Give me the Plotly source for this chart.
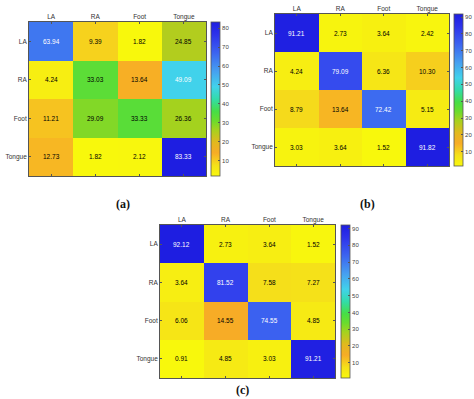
import plotly.graph_objects as go

classes = ["LA", "RA", "Foot", "Tongue"]

cm_a = [
    [63.94, 9.39, 1.82, 24.85],
    [4.24, 33.03, 13.64, 49.09],
    [11.21, 29.09, 33.33, 26.36],
    [12.73, 1.82, 2.12, 83.33],
]
cm_b = [
    [91.21, 2.73, 3.64, 2.42],
    [4.24, 79.09, 6.36, 10.30],
    [8.79, 13.64, 72.42, 5.15],
    [3.03, 3.64, 1.52, 91.82],
]
cm_c = [
    [92.12, 2.73, 3.64, 1.52],
    [3.64, 81.52, 7.58, 7.27],
    [6.06, 14.55, 74.55, 4.85],
    [0.91, 4.85, 3.03, 91.21],
]
panel_labels = ["(a)", "(b)", "(c)"]

W, H = 474, 399

colorscale = [
    [0.0, "rgb(248,248,12)"],
    [0.07, "rgb(245,225,25)"],
    [0.15, "rgb(247,172,38)"],
    [0.22, "rgb(225,185,30)"],
    [0.30, "rgb(165,210,30)"],
    [0.36, "rgb(105,220,45)"],
    [0.42, "rgb(70,222,70)"],
    [0.50, "rgb(50,220,170)"],
    [0.58, "rgb(65,210,235)"],
    [0.68, "rgb(70,160,240)"],
    [0.80, "rgb(60,100,240)"],
    [0.92, "rgb(45,50,235)"],
    [1.0, "rgb(30,30,225)"],
]

# pixel boxes: (left, right, top, bottom) for heatmap; colorbar left/right
boxes = [
    dict(l=29, r=206, t=22, b=176, cl=211, cr=220, lab=(123, 204)),
    dict(l=275, r=449, t=14, b=166, cl=454, cr=463, lab=(367, 204)),
    dict(l=160, r=335, t=225, b=378, cl=341, cr=350, lab=(243, 390)),
]
mats = [cm_a, cm_b, cm_c]

fig = go.Figure()
annotations = []
font_fam = "Liberation Sans, Arial, sans-serif"

for i, (m, bx) in enumerate(zip(mats, boxes)):
    sfx = "" if i == 0 else str(i + 1)
    xa, ya = "x" + sfx, "y" + sfx
    flat = [v for row in m for v in row]
    zmin, zmax = min(flat), max(flat)
    fig.add_trace(go.Heatmap(
        z=m, x=classes, y=classes, xaxis=xa, yaxis=ya,
        colorscale=colorscale, zmin=zmin, zmax=zmax,
        hoverinfo="skip",
        colorbar=dict(
            x=bx["cl"] / W, xanchor="left", xpad=0, ypad=0,
            thickness=bx["cr"] - bx["cl"],
            len=(bx["b"] - bx["t"]) / H, lenmode="fraction",
            y=1 - (bx["t"] + bx["b"]) / 2 / H, yanchor="middle",
            outlinewidth=0.8, outlinecolor="#555",
            tick0=10, dtick=10, ticks="inside", ticklen=2, tickcolor="#555",
            tickfont=dict(size=6, color="#444", family=font_fam),
        ),
    ))
    dom_x = [bx["l"] / W, bx["r"] / W]
    dom_y = [1 - bx["b"] / H, 1 - bx["t"] / H]
    fig.layout["xaxis" + sfx] = dict(
        domain=dom_x, anchor=ya, side="top", ticks="inside", ticklen=2,
        tickcolor="#555", mirror="allticks", showline=True, linecolor="#555",
        linewidth=0.8, showgrid=False, zeroline=False,
        tickfont=dict(size=6.5, color="#333", family=font_fam),
    )
    fig.layout["yaxis" + sfx] = dict(
        domain=dom_y, anchor=xa, autorange="reversed", ticks="inside", ticklen=2,
        tickcolor="#555", mirror="allticks", showline=True, linecolor="#555",
        linewidth=0.8, showgrid=False, zeroline=False,
        tickfont=dict(size=6.5, color="#333", family=font_fam),
    )
    for r, rowname in enumerate(classes):
        for c, colname in enumerate(classes):
            v = m[r][c]
            norm = (v - zmin) / (zmax - zmin)
            annotations.append(dict(
                x=colname, y=rowname, xref=xa, yref=ya, text=f"{v:.2f}",
                showarrow=False,
                font=dict(size=6.5, color="white" if norm > 0.45 else "black",
                          family=font_fam),
            ))
    lx, ly = bx["lab"]
    annotations.append(dict(
        x=lx / W, y=1 - ly / H, xref="paper", yref="paper",
        text="<b>" + panel_labels[i] + "</b>", showarrow=False,
        xanchor="center", yanchor="middle",
        font=dict(size=12, color="#111", family="Liberation Serif, Times New Roman, serif"),
    ))

fig.update_layout(
    width=W, height=H, margin=dict(l=0, r=0, t=0, b=0, autoexpand=False),
    paper_bgcolor="white", plot_bgcolor="white",
    annotations=annotations, showlegend=False,
)

fig.write_html(
    "out.html",
    config={"displayModeBar": False},
    post_script="document.body.style.margin='0';document.body.style.overflow='hidden';",
)
